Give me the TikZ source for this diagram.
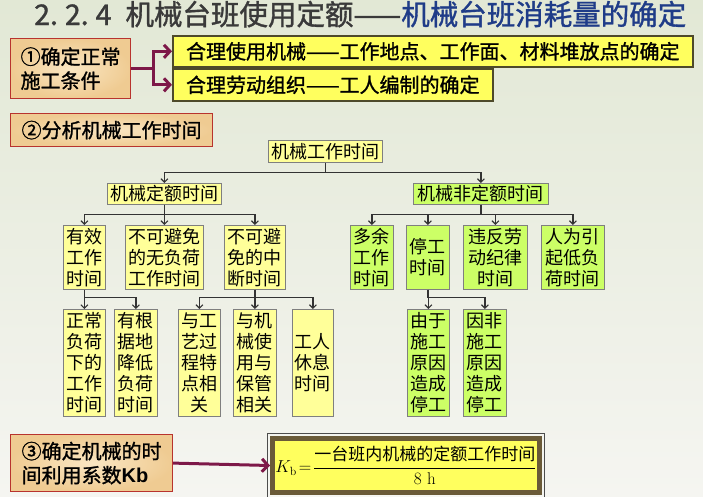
\documentclass[tikz,border=0pt]{standalone}
\usepackage{fontspec}
\newfontfamily\cjk{Noto Sans CJK SC}
\newfontfamily\cjkb[FakeBold=1.2]{Noto Sans CJK SC}
\newfontfamily\lsans{Liberation Sans}
\usetikzlibrary{arrows.meta}
\definecolor{bgtop}{HTML}{E2E8D5}
\definecolor{bgbot}{HTML}{F5F5F1}
\definecolor{tanfill}{HTML}{EFCB92}
\definecolor{tanin}{HTML}{FAE6C2}
\definecolor{boxred}{HTML}{B8332E}
\definecolor{ylwA}{HTML}{FFFF5E}
\definecolor{ydark}{HTML}{4E4A2A}
\definecolor{pyel}{HTML}{FFFF99}
\definecolor{pgrn}{HTML}{CCFF66}
\definecolor{tgray}{HTML}{7F7F7F}
\definecolor{lineg}{HTML}{333333}
\definecolor{maroon}{HTML}{7D1848}
\definecolor{titleg}{HTML}{3A3A3A}
\definecolor{titleb}{HTML}{1F3C88}
\definecolor{fborder}{HTML}{6A5A38}
\begin{document}
\begin{tikzpicture}[x=1pt,y=-1pt,
  tanbox/.style={draw=boxred, line width=1.2pt, inner color=tanin, outer color=tanfill,
    inner sep=0pt, anchor=north west, align=left, text=black,
    font=\cjkb\fontsize{20}{24}\selectfont},
  ylwbox/.style={draw=ydark, line width=1.6pt, fill=ylwA, inner sep=0pt, anchor=north west,
    text=black, font=\cjkb\fontsize{20}{24}\selectfont},
  tnode/.style={draw=tgray, line width=0.9pt, fill=pyel, inner sep=0pt, anchor=north west,
    align=center, text=black, font=\cjk\fontsize{18}{21}\selectfont},
  gnode/.style={tnode, fill=pgrn},
  tarr/.style={draw=lineg, line width=1.1pt, -{Straight Barb[length=3.5pt,width=7pt]}},
  marr/.style={draw=maroon, line width=3pt, -{Straight Barb[length=6pt,width=13pt]}}
]
\useasboundingbox (0,0) rectangle (703,496);
\fill[top color=bgtop, bottom color=bgbot] (0,0) rectangle (703,496);

% title
\node[anchor=base west, inner sep=0pt, font=\cjkb\fontsize{28.5}{32}\selectfont] (title) at (34,25)
  {\textcolor{titleg}{2.\hspace{7pt}2.\hspace{7pt}4\hspace{14pt}机械台班使用定额——}\textcolor{titleb}{机械台班消耗量的确定}};

% section 1
\node[tanbox, minimum width=120, minimum height=60] (s1) at (10,38) {①确定正常\\施工条件};
\node[ylwbox, minimum width=520, minimum height=31] (ya) at (172,35) {合理使用机械——工作地点、工作面、材料堆放点的确定};
\node[ylwbox, minimum width=320, minimum height=32] (yb) at (172,68) {合理劳动组织——工人编制的确定};
\draw[marr] (s1.east) -- ++(22,0) |- (ya.west);
\draw[marr] (s1.east) -- ++(22,0) |- (yb.west);

% section 2
\node[tanbox, minimum width=202, minimum height=33, align=center] (s2) at (10,113) {②分析机械工作时间};

% tree
\node[tnode, minimum width=114, minimum height=22] (root) at (268,140) {机械工作时间};
\node[tnode, minimum width=114, minimum height=21] (def) at (107,183) {机械定额时间};
\node[gnode, minimum width=135, minimum height=21] (ndef) at (413,183) {机械非定额时间};
\draw[tarr] (root.south) -- ++(0,10) -| (def.north);
\draw[tarr] (root.south) -- ++(0,10) -| (ndef.north);

\node[tnode, minimum width=42, minimum height=64] (a1) at (63,225) {有效\\工作\\时间};
\node[tnode, minimum width=78, minimum height=64] (a2) at (125,225) {不可避免\\的无负荷\\工作时间};
\node[tnode, minimum width=61, minimum height=64] (a3) at (224,225) {不可避\\免的中\\断时间};
\draw[tarr] (def.south) -- ++(0,10) -| (a1.north);
\draw[tarr] (def.south) -- (a2.north);
\draw[tarr] (def.south) -- ++(0,10) -| (a3.north);

\node[gnode, minimum width=43, minimum height=64] (b1) at (350,225) {多余\\工作\\时间};
\node[gnode, minimum width=43, minimum height=64] (b2) at (406,225) {停工\\时间};
\node[gnode, minimum width=64, minimum height=64] (b3) at (463,225) {违反劳\\动纪律\\时间};
\node[gnode, minimum width=63, minimum height=64] (b4) at (541,225) {人为引\\起低负\\荷时间};
\draw[tarr] (ndef.south) -- ++(0,10) -| (b1.north);
\draw[tarr] (ndef.south) -- ++(0,10) -| (b2.north);
\draw[tarr] (ndef.south) -- ++(0,10) -| (b3.north);
\draw[tarr] (ndef.south) -- ++(0,10) -| (b4.north);

\node[tnode, minimum width=42, minimum height=107] (c1) at (63,309) {正常\\负荷\\下的\\工作\\时间};
\node[tnode, minimum width=43, minimum height=107] (c2) at (114,309) {有根\\据地\\降低\\负荷\\时间};
\node[tnode, minimum width=42, minimum height=107] (c3) at (178,309) {与工\\艺过\\程特\\点相\\关};
\node[tnode, minimum width=43, minimum height=107] (c4) at (233,309) {与机\\械使\\用与\\保管\\相关};
\node[tnode, minimum width=41, minimum height=107] (c5) at (292,309) {工人\\休息\\时间};
\draw[tarr] (a1.south) -- ++(0,8) -| (c1.north);
\draw[tarr] (a1.south) -- ++(0,8) -| (c2.north);
\draw[tarr] (a3.south) -- ++(0,8) -| (c3.north);
\draw[tarr] (a3.south) -- (c4.north);
\draw[tarr] (a3.south) -- ++(0,8) -| (c5.north);

\node[gnode, minimum width=42, minimum height=107] (d1) at (407,309) {由于\\施工\\原因\\造成\\停工};
\node[gnode, minimum width=43, minimum height=107] (d2) at (463,309) {因非\\施工\\原因\\造成\\停工};
\draw[tarr] (b2.south) -- ++(0,8) -| (d1.north);
\draw[tarr] (b2.south) -- ++(0,8) -| (d2.north);

% section 3
\node[tanbox, minimum width=162, minimum height=57] (s3) at (10,434) {③确定机械的时\\间利用系数{\lsans\bfseries Kb}};
\node[draw=fborder, line width=5pt, fill=ylwA, inner sep=0pt, anchor=north west,
  minimum width=267, minimum height=54, font=\fontsize{17}{20}\selectfont] (fm) at (270,436)
  {$K_{\mathrm{b}}\!=\!\displaystyle\frac{\mbox{\cjk 一台班内机械的定额工作时间}}{8\ \mathrm{h}}$};
\draw[line width=0.8pt, draw=black!70] (fm.north west) ++(-2.5,-2.5) rectangle ([shift={(2.5,2.5)}]fm.south east);
\draw[marr] (s3.east) -- (fm.west);
\end{tikzpicture}
\end{document}
